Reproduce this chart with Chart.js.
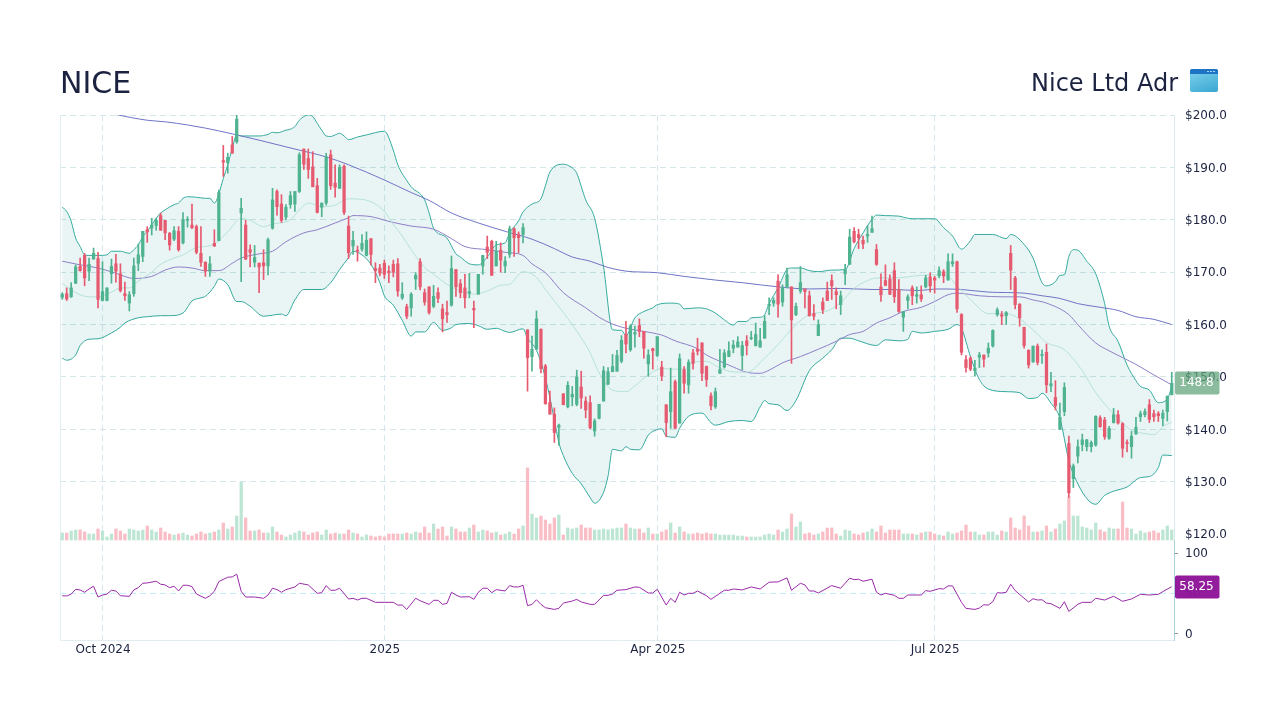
<!DOCTYPE html>
<html><head><meta charset="utf-8">
<style>
html,body{margin:0;padding:0;background:#fff;width:1280px;height:720px;overflow:hidden;font-family:"DejaVu Sans",sans-serif}
#c{position:absolute;left:0;top:0}
.t{position:absolute;color:#1c2340;white-space:nowrap;line-height:1}
#sym{left:60px;top:68px;font-size:30px}
#name{right:102px;top:71px;font-size:24px}
#ico{position:absolute;left:1190px;top:69px;width:28px;height:23px;border-radius:2px;overflow:hidden;background:linear-gradient(160deg,#82d3ec,#38a7d2)}
#ico i{display:block;height:5px;background:#1d74c4;position:relative}
#ico b{position:absolute;top:2px;width:2px;height:1px;background:#a9d4f2}
</style>
<script src="https://cdn.jsdelivr.net/npm/chart.js@4"></script>
</head><body>
<canvas id="c" width="1280" height="720"></canvas>
<div class="t" id="sym">NICE</div><div class="t" id="name">Nice Ltd Adr</div><div id="ico"><i><b style="left:17px"></b><b style="left:20px"></b><b style="left:23px"></b></i></div>
<script>
const xTickIndex=[9,72,133,195];
const xTickLabels=['Oct 2024','2025','Apr 2025','Jul 2025'];
const priceTicks=[120,130,140,150,160,170,180,190,200];
const rsiTicks=[0,30,50,70,100];
const rsiLabelled=[0,50,100];
const lastPrice=148.8, lastRsi=58.25;

const opens=[165.2,165.9,165.3,167.9,171.1,173.2,170.2,172.5,172.6,164.6,
164.6,169.7,171.6,169.7,165.9,164.1,165.9,171.7,173,178.1,
178.4,178.9,180.8,179.9,177.4,176.3,177.8,175.6,179.9,179,
178.7,173.6,171.9,170.2,175.5,176,191.3,190.9,194.3,194.9,
181.3,179,174.3,171.9,171.7,171.8,171.2,178.4,185.4,183,
180.5,182.9,183,185.4,193.5,191.7,190.1,186.5,182.4,183.2,
192.4,187,186,190.2,178.8,175,174.2,174.4,173.2,176.4,
170.7,170.8,171.7,170.2,171.5,171.6,165.1,163.4,163.2,168.7,
172,166.1,167.2,163.5,166.1,163,162.3,163.7,170.5,167.8,
167,166,163.1,165.8,171.2,174.8,175.9,171.2,174.2,171.2,
173.4,178.3,177.2,177.2,159,153.9,155.3,159.1,152.1,145.1,
142.9,140.4,146.8,144.3,146.2,144.8,148.1,145.4,145.1,139.7,
142.1,145.4,148.6,151,151.1,153,158.1,155.2,158.2,159.8,
158.7,152.5,155.4,154.1,151.9,144.7,143.4,149.1,141.2,151.4,
148.5,154.6,155.3,156.5,152,146.4,144.3,150.7,151.9,153.9,
155.5,155.7,154.1,156.9,157.3,156,155.7,157.4,163.6,164.1,
168.3,164.3,167.2,167.2,161.9,166.4,166.8,165.5,162.1,157.9,
164.3,166.4,168.4,166.3,163.8,169.7,171.5,177.8,177.2,176.1,
176.9,177.6,174.3,167.2,168.4,168.7,170.3,166.7,161.4,164.6,
167,165.4,165.7,167.2,169.1,168.9,169.3,170.1,168.5,171.6,
172,161.9,153.3,153.6,151.2,153.8,154.2,154.6,155.9,161.9,
161.9,161.7,173.6,168.9,163.9,159.5,155.1,152.9,155.9,154.1,
154.7,148.3,146.1,140,143.4,137.3,130.6,134.9,137.1,136.7,
136.7,137,142.2,141.8,138.3,141.3,142.8,141.1,137.5,136.7,
139.1,142.4,142.8,144.7,143,143,142.1,143.4,146.6];
const closes=[165.8,164.9,167,171,170.3,168.9,171.5,173.6,164.8,166.3,
167,171.1,170.2,166.5,165.5,165.7,171.2,173.3,177.8,177.7,
179,179.9,178,177.5,175.2,177.9,174.3,180,180,178.5,
173.8,171.9,170.2,171.6,175,185.2,191,191.9,192.7,199.2,
182.2,172.5,173.8,172.8,171,171.2,176.2,183.8,182.5,179.9,
182.4,184.6,185.4,192.4,190.6,189.6,186.3,181.4,183.2,192,
186.5,186.2,190,181.4,173.7,176.1,174,175.5,176.1,173.4,
170.3,169.8,169.6,169.9,170,166.4,165.8,161.6,165.8,169.4,
167.2,164.3,162.3,165.4,165,161.1,161.9,170.7,167.2,166.1,
165.1,166.3,162.8,169.6,173.2,173.8,169.4,174,172.3,172.1,
178.3,176.6,176.6,178.5,153.7,155.3,161.1,151.6,144.9,142.9,
139.4,140.8,144.7,148.4,146.7,150,146,143.7,140.3,141.6,
144.8,151.2,151,152,154.1,157,156.3,159.7,158.5,158.7,
155.5,154.2,155,157.7,150.2,141.3,147.2,140.2,153.5,148.8,
152.8,152.6,154.9,150.7,149.5,144.5,147.2,151.4,154.6,155,
156.1,156.7,156,156,157.5,158.1,156.9,160.6,163.9,164.6,
163.9,167,169.5,160.9,163.5,168,166.3,161.7,161.6,160,
162.8,164.6,167.4,165.7,165.5,170.5,176.7,175.8,176.6,175.4,
177.2,178.3,171.5,165.7,167.5,165.8,165.3,162.5,162.5,165.3,
165.5,165.7,164.9,168.9,167.4,168.5,170.3,169.3,172,172,
163,154.7,151.8,151.5,151.7,154.2,153.4,155.5,158.9,162.8,
161.6,162.3,170.4,163.8,161.3,156,152.3,155.9,152.8,154.2,
148.5,148.7,144.5,142.3,148,127.9,133,136.7,138,138,
137.5,142.5,140.5,138.6,140.2,142.8,141.2,136.4,137.3,138.7,
140.4,143,143.4,141.9,142.4,142.6,143.1,146.3,148.8];
const highs=[166.1,167,168,171.4,172.7,173.6,172.7,174.6,173.8,172,
167,172.5,173.4,171.6,168.1,166.3,172.7,175.4,177.8,178.7,
180.3,180.3,181.3,179.9,177.6,178.7,178.7,181.4,180.6,183,
179,178.7,172,173,178.1,185.7,194.2,192.7,195.9,200.1,
184.1,179.9,175.2,175.1,171.8,174.3,176.5,186,185.7,184.8,
182.9,185.4,185.4,192.8,193.5,193.5,193,187.9,183.2,192.7,
193.3,190.5,190.5,190.5,180.7,177.8,175,177.2,177.7,176.4,
171.8,171.5,172.3,171.2,172.3,172.6,168,163.9,166.1,169.9,
172.6,166.8,167.2,167.5,167,163.9,164.5,173.1,170.5,168.6,
169.6,169.8,164.5,169.6,173.2,176.9,176.1,175.9,175.6,173,
178.8,178.5,177.7,179.3,159,157.8,162.6,159.2,152.4,147.3,
144.1,141,146.8,149.1,148.2,151.3,151.1,146.2,146.4,142,
144.8,152,151.8,154.3,155.1,157.9,160.6,160,159.7,161.1,
158.7,155.2,155.5,157.7,153,144.7,151.7,149.4,154.4,152,
153.3,155.3,157.4,156.5,152.1,147,147.9,155.3,155.2,156.7,
157,157.7,156.8,157.9,158.7,160.3,159.3,161.7,165.1,165.1,
169.5,167.6,170.8,167.2,164.1,171.1,166.8,166.4,163.8,160.9,
165.1,168.1,169.5,167,166.4,171.5,178.2,178.5,178.2,176.9,
178.9,180.7,175.3,169.7,171.4,169.5,171.8,168.6,162.5,165.7,
167.4,167.2,167.4,169.4,169.9,169.2,171,170.5,173.5,173.5,
172.1,162.1,154.1,153.9,153.2,154.7,154.2,156.5,159,163.2,
162.5,162.5,175.1,169.2,164,159.5,155.2,155.9,156.3,155.2,
156.3,150.9,149.3,145,148.9,138.7,133.4,138,139.1,138.1,
137.8,142.6,142.6,142.3,140.6,144,143.6,141.3,138,139.6,
142.3,143.5,143.9,145.7,143.7,143.4,143.7,146.4,150.9];
const lows=[164.8,164.6,165.2,167.8,170.2,167.4,168.4,172.5,163.2,164.5,
164.5,167.9,168.1,166.2,164.6,162.6,165.4,170.3,172,175.7,
177.1,178,178,176.2,174.2,176,174,175.4,178.6,178.3,
173.5,171.1,169.2,169.2,174.9,176,188.3,188.9,192.7,194.6,
168.2,172.4,171,171,166.1,168.6,169.5,178.2,180.9,179.5,
180,182.2,181.6,185.2,189.6,187.9,186.3,181.3,180.6,182.8,
185.8,184.3,186,181,172.6,173.4,172.1,174,173.1,171.4,
168,169.3,168.8,168,169.1,165.4,164.8,161.1,161.6,166.7,
166.6,163.7,162,163.2,164.2,158.6,160.4,163.5,165.4,165.1,
163.2,165.1,159.4,165.8,169.6,172.6,169.4,171.2,170,169.9,
172.8,173,173.7,175.6,147.3,151.1,155.3,150.8,144.8,142.9,
137.5,137,144.7,144.1,144.5,144.5,144,142.2,140.1,138.7,
142,145.4,148.6,151,151.1,152.7,154.6,154.9,155.7,157.7,
153.6,150.1,151.5,153.9,149.3,138.6,140.2,140.2,141.2,146.9,
146.9,151.5,154.2,149.3,148.2,143.7,144,150.7,151.7,153.9,
154.6,155.7,151.4,154.2,157.1,155.9,155.7,157.4,161.9,163.5,
161.4,163.5,167,152.6,161.7,166,163.2,161.6,160.9,157.9,
162.1,164.6,164.8,163,161.9,167.6,171.5,175.6,174.5,174.5,
175.7,177.6,171.3,164.4,167.4,165.7,164.2,162.3,158.7,163,
163.8,164.1,164.4,167,166.2,166,168.9,168,168.5,171.1,
162.3,154.2,150.9,151.2,150.2,151.8,151.9,153.8,155.7,161.6,
160,160,166.7,163,159.7,155.5,151.7,152.8,152.3,152.6,
147,147.2,143.7,140,142.6,127,128.9,133.6,135.9,135.9,
135.7,136.8,140.4,138.1,138.1,141.2,141,134.7,135.7,134.5,
139.1,141.5,142.4,141.3,141.5,141.5,140.7,141.6,146.6];
const volumes=[7,7,9,10,10,8,6,6,11,9,
3,6,11,9,6,11,10,9,10,14,
10,8,12,8,6,5,6,7,5,4,
6,8,6,7,8,10,17,11,13,24,
58,22,9,9,10,7,7,13,8,5,
3,5,7,9,8,5,7,8,5,10,
6,7,6,6,10,7,6,3,5,4,
3,4,3,6,6,6,6,7,6,8,
7,13,7,16,11,13,4,13,11,8,
8,12,15,8,10,9,7,8,5,6,
8,6,11,14,72,26,22,24,20,16,
22,25,5,12,11,12,15,12,12,10,
10,11,10,11,12,12,16,12,11,11,
7,12,6,6,8,10,17,7,13,8,
6,6,7,6,7,6,6,5,5,5,
5,4,4,3,3,3,3,5,6,5,
10,8,11,26,13,18,6,7,5,6,
8,12,12,6,4,10,9,6,5,7,
8,11,8,14,7,10,10,10,6,6,
6,5,7,8,8,6,5,4,8,6,
7,9,15,8,8,5,5,8,8,5,
9,8,22,12,10,24,14,8,8,9,
14,8,11,16,19,43,24,24,13,12,
10,17,10,8,12,11,11,38,12,11,
6,9,7,8,9,7,10,14,10];

const upperIdx=[0,1,2,3,4,5,6,8,10,11,13,15,16,17,18,19,20,21,22,23,25,26,27,28,30,32,33,34,35,36,37,38,39,40,42,44,46,47,48,50,51,52,53,54,55,56,57,58,59,60,61,62,63,64,66,68,72,74,75,77,78,81,82,83,86,88,89,91,93,95,97,99,100,102,103,105,107,108,109,112,113,115,116,117,119,121,123,125,126,128,130,132,133,136,138,139,142,144,146,148,150,151,153,154,156,157,158,160,162,163,165,167,169,172,175,177,179,181,182,184,187,188,190,195,197,199,201,203,204,208,211,212,215,217,219,220,222,223,224,225,226,227,229,231,233,234,236,238,240,241,243,245,247,248];
const upperVal=[182.4,181.6,179.7,176.5,174.9,173.3,173.2,173.2,173.3,174,174,173.6,174.3,175.2,176.8,177.8,179,180.3,181.3,181.9,182.9,183.2,184.1,184.4,184.3,184.1,184.1,183.2,184.9,187.9,190.5,193.6,196.2,196,196,196,196.3,196.7,196.6,197.1,197.3,197.8,199,199.7,200,199.7,198.4,197.1,196,195.9,196.2,196.5,196,195.3,195.8,196.2,196.9,193.3,190.5,187.5,186.3,183.8,181.3,178.4,176.5,173.5,172.9,171.6,171.4,172.9,175.2,175.6,177.5,179.8,181.5,183,184,186.5,189.1,190.6,190.4,188.9,186.4,183.8,180.3,171,159,158.9,157.9,161.3,162.5,163.2,163.8,164.1,163.9,163,163.2,163,162.2,160.9,159.9,160.6,160.6,161.3,161.4,161.9,164,167,170.5,170.8,170.8,170.3,170.1,170.4,170.5,174.5,177.5,180.1,180.9,180.8,180.7,180.5,180.2,180.2,178.5,176.9,174.4,176,177.2,177.2,176.4,177.2,175.3,172.7,168,167.4,168.2,169.4,169.5,173,174.3,174.2,172.1,169.7,164,159.7,156.8,152.3,149.3,148.2,147.5,145.1,145.8,148.2];
const lowerIdx=[0,1,3,4,6,8,11,13,14,17,19,22,24,27,29,31,32,34,35,37,39,40,42,45,49,50,52,54,58,60,62,64,65,67,69,71,72,74,76,78,79,81,83,85,87,88,91,93,95,97,99,100,103,104,106,108,110,111,112,114,116,118,119,121,122,123,125,126,127,129,131,132,134,135,137,138,140,143,145,146,149,152,154,156,157,158,160,162,164,167,170,172,174,176,178,182,184,187,189,190,192,195,198,200,201,203,205,207,211,214,216,218,219,221,223,225,226,229,231,233,235,238,241,243,245,246,248];
const lowerVal=[153.6,153.2,154.2,156,157.2,157.3,158.4,159.5,160.3,161.3,161.5,161.7,161.7,162.2,164.5,165.1,165.4,167.3,168.7,167.6,164.4,164.4,163.5,161.6,162,161.7,164.7,166.7,166.7,168,170.5,172.8,174,173.3,171.5,168,165.5,163.7,160.8,157.8,158.6,158.6,160.4,158.9,159.4,160,160.2,159.8,159.1,159.3,158.7,158.5,159.2,157.4,155.1,149.8,141.8,137.5,135,131.6,129.6,127,125.9,128,131.1,136.2,135.9,136.7,136.2,136.1,138.9,139.6,140.1,138.7,138.5,140.2,142.5,143.1,141.3,140.8,141.5,141.7,141.5,144.3,145.5,144.9,144.7,143.6,145.5,151.2,153.6,155.2,157.4,157.4,156.9,156,157.1,156.9,157.2,158.7,158.4,158.7,159.1,160,159.3,153.9,149.5,147.7,147.2,147,145.9,146.1,146.9,145,142.1,134,131.5,126.8,125.7,127.4,128.2,129,130.8,131,132.7,135.1,135];
const midIdx=[0,3,6,8,11,13,15,17,20,22,25,27,30,32,34,37,40,42,45,47,51,53,55,58,61,64,67,70,72,74,76,78,81,83,86,89,92,95,98,100,103,106,108,112,116,118,120,123,126,128,131,134,137,139,141,144,146,149,153,157,160,164,167,171,174,177,180,182,186,192,195,198,200,203,207,211,214,217,220,224,228,231,236,239,242,244,246,248];
const midVal=[167.9,166.1,165.3,165.3,166.2,167,167,168.3,170,171.5,172.7,173.3,174.7,174.9,175.4,177.7,180.3,179.9,178.7,179.2,180,181.9,183.2,182.5,182.8,184,183.9,183,181.6,179.1,176.9,174.3,170.9,169.6,167.7,166.4,165.8,166.4,167.5,167.7,170.1,169,166.7,162.3,157.5,154.6,150.8,147.5,147.2,148.3,150.4,151.6,151.5,151.5,152.8,153,152.2,151.1,150.9,153.6,156.2,160,161.9,162.6,164.2,166.9,168.4,168.9,168.9,169.4,169.5,169.2,167.3,164.8,162.1,162.1,161.1,159,156.6,155.2,151.2,147,142.1,139.8,139.2,139,140.5,141.4];
const sma50Idx=[0,4,8,12,16,20,23,26,29,32,35,38,40,44,47,50,54,57,61,64,65,69,73,78,83,87,90,95,99,103,105,108,112,117,120,123,126,130,134,137,142,144,147,150,153,156,158,161,165,169,173,176,179,182,185,188,192,195,198,200,205,210,214,217,220,225,227,231,234,237,240,244,248];
const sma50Val=[172.1,171.4,170.8,169.8,168.8,169.2,170.4,171,170.8,170.3,170.3,171.7,172.7,173.5,174,175.8,177.5,178.1,179.4,180.4,180.8,180.6,179.7,178.8,178.2,176.4,174.9,174.3,173.8,173.2,171.6,169.9,166.1,163.2,161.4,160.1,159.3,158.7,158,156.9,155.4,154.2,153,151.9,150.9,150.7,151.3,152.7,153.9,155.3,156.8,158.1,158.7,160.3,161.3,162.5,163.3,164.4,165.7,166,165.5,165.3,165.3,164.7,164.1,161.9,160,156.5,155,153.7,152.4,150.4,148.5];
const sma200Idx=[5,12,19,23,28,32,38,44,52,59,64,72,78,82,87,93,99,105,110,114,118,122,126,133,139,146,152,160,167,174,181,186,191,196,201,207,215,219,223,227,232,236,240,244,248];
const sma200Val=[201.5,200.1,199,198.7,198.1,197.5,196.4,195.2,193.5,192,190.5,187.6,185.2,183.7,181.3,179.4,177.8,176.3,174.5,172.9,172.1,170.9,170.2,169.9,169.2,168.5,168,167.2,166.8,166.9,166.7,166.7,166.5,166.8,166.7,166.2,166,165.5,165,164,163.3,162.7,161.5,161,160];
const rsiIdx=[0,1,2,3,4,5,6,7,8,9,10,11,12,13,15,16,17,18,19,21,22,23,24,25,26,27,28,29,30,32,33,34,35,37,38,39,40,41,43,45,46,47,48,49,50,52,53,55,57,58,59,60,61,62,64,65,66,67,68,70,74,75,76,77,79,80,82,83,84,85,86,87,88,89,91,92,93,94,95,96,97,99,100,101,102,103,104,105,106,107,108,110,111,112,114,115,116,118,119,121,122,123,124,126,128,129,131,132,133,135,136,137,138,139,140,141,142,144,145,148,149,150,152,154,156,158,160,162,163,165,166,167,168,169,172,174,176,177,178,179,181,182,183,184,186,187,188,189,192,193,194,196,197,198,199,201,202,204,205,206,207,208,209,210,211,212,213,216,217,218,219,220,221,223,224,225,227,228,230,231,233,235,237,239,241,243,245,246,248];
const rsiVal=[47,46.7,49,55,54.2,51.3,55.4,58.8,45.4,47.9,49,53.8,52.9,47,46.3,54.2,57.1,62.5,62.9,65,61.3,60.4,57,58.8,52.9,60,60,58.3,49.2,43.8,47,52.5,64.6,70,70.4,73.8,52.5,45.4,45.4,43.8,47.9,56.3,54.6,51.3,54.6,57.9,62.5,60.4,50,50.8,59.6,53.8,53.8,56.3,42.9,43.8,41.7,43.8,43.8,38.8,38.8,35.4,35.4,30,43.8,40.8,36.3,41.3,41.3,36.3,37.5,51.3,47.9,45.4,45.8,42.5,51.3,56.3,56.3,50.8,54.6,52.9,59.6,57.9,57.9,60,34.6,36.3,42,36.3,32.1,30,31.3,37.9,40.4,42.5,39.2,36.3,36.3,47.5,47.5,49.2,53.8,54.6,57.9,57.5,50.4,50.4,55,35.4,43.8,38.8,51.3,47.9,50,50,52.9,47,42.5,53.8,53.8,55.4,54.2,57.9,55.4,63.8,64.2,69.2,53.8,62.5,60.4,52.9,52.9,50.4,59.6,56.3,68.8,67,67.5,65,67.5,51.3,47.9,50,47.5,43.8,43.8,47.9,47.9,53.3,52.5,55.8,55.4,59.2,59.2,38.8,31.3,30,31.7,35.8,35.4,39.6,50.8,50.4,51.3,61.3,53.3,39.2,43.3,41.7,42,37.9,37.1,31.3,39.6,27.5,36.3,38.8,38.8,43.8,41.7,46.3,40.1,43,48.8,47.9,48.8,52.1,58.25];

const categories=opens.map((_,i)=>i);
const pts=(idx,val)=>idx.map((x,i)=>({x,y:val[i]}));
const isUp=i=>closes[i]>=opens[i];
const RED='#e65a70',GREEN='#4fb390',RED_V='#f9bdc6',GREEN_V='#bce5d3';
const TEXT='#1c2340';

const line=(label,idx,val,color,extra)=>Object.assign({type:'line',label,data:pts(idx,val),borderColor:color,borderWidth:1,pointRadius:0,cubicInterpolationMode:'monotone',yAxisID:'yPrice',order:5,fill:false},extra||{});

const overlay={id:'overlay',
 beforeDatasetsDraw(ch){const c=ch.ctx,a=ch.chartArea;c.save();c.strokeStyle='#e2edf2';c.lineWidth=1;c.beginPath();c.moveTo(a.left+.5,a.top);c.lineTo(a.left+.5,a.bottom);c.stroke();c.restore();},
 afterDraw(ch){
  const c=ch.ctx;
  const tag=(y,txt,bg)=>{c.save();c.fillStyle=bg;c.beginPath();c.roundRect(1175,Math.round(y)-11.5,44.5,23,2);c.fill();
   c.fillStyle='#fff';c.font='12px "DejaVu Sans"';c.textAlign='center';c.textBaseline='middle';c.fillText(txt,1196.5,y);c.restore();};
  tag(ch.scales.yPrice.getPixelForValue(lastPrice),lastPrice.toFixed(1),'rgba(100,165,125,0.75)');
  tag(ch.scales.yRsi.getPixelForValue(lastRsi),lastRsi.toFixed(2),'rgba(142,21,153,0.97)');
 }};

new Chart(document.getElementById('c'),{
 data:{labels:categories,datasets:[
  {type:'bar',label:'High-Low',data:categories.map(i=>[lows[i],highs[i]]),backgroundColor:categories.map(i=>isUp(i)?GREEN:RED),barThickness:1,grouped:false,yAxisID:'yPrice',order:2},
  {type:'bar',label:'Open-Close',data:categories.map(i=>[Math.min(opens[i],closes[i]),Math.max(opens[i],closes[i])]),backgroundColor:categories.map(i=>isUp(i)?GREEN:RED),barThickness:2.6,minBarLength:1,grouped:false,yAxisID:'yPrice',order:1},
  {type:'bar',label:'Volume',data:volumes,backgroundColor:categories.map(i=>isUp(i)?GREEN_V:RED_V),barThickness:2.6,grouped:false,yAxisID:'yVol',order:6},
  line('BB Upper',upperIdx,upperVal,'#35ab9e',{fill:'+1',backgroundColor:'rgba(0,128,128,0.085)',order:7}),
  line('BB Lower',lowerIdx,lowerVal,'#35ab9e',{order:7}),
  line('BB Basis',midIdx,midVal,'#b5e2d8'),
  line('SMA 50',sma50Idx,sma50Val,'#8e7fc8'),
  line('SMA 200',sma200Idx,sma200Val,'#6f75c6'),
  {type:'line',label:'RSI',data:pts(rsiIdx,rsiVal),borderColor:'#9a2aa8',borderWidth:1,pointRadius:0,tension:0,yAxisID:'yRsi',order:3}
 ]},
 options:{responsive:false,animation:false,events:[],
  layout:{padding:{top:115,left:60,right:50,bottom:60}},
  plugins:{legend:{display:false},tooltip:{enabled:false},title:{display:false}},
  scales:{
   x:{type:'category',offset:true,
     grid:{offset:false,color:'#d6e8ee',borderDash:[6,4],drawTicks:false},border:{color:'#e2edf2',dash:[6,4]},
     ticks:{autoSkip:false,maxRotation:0,padding:3,labelOffset:.5,color:TEXT,font:{family:'"DejaVu Sans"',size:12},callback:v=>xTickLabels[xTickIndex.indexOf(v)]},
     afterBuildTicks:s=>{s.ticks=xTickIndex.map(v=>({value:v}));},
     afterFit:s=>{s.height=20;}},
   yPrice:{type:'linear',position:'right',stack:'r',stackWeight:4.25,min:118.89,max:200,
     grid:{color:c=>c.tick&&c.tick.value===120?'transparent':'#d3e6ea',drawTicks:false},border:{color:'#dbe9ee',dash:[6,4]},
     ticks:{padding:11,labelOffset:1,color:TEXT,font:{family:'"DejaVu Sans"',size:12},callback:v=>'$'+v.toFixed(1)},
     afterBuildTicks:s=>{s.ticks=priceTicks.map(v=>({value:v}));},
     afterFit:s=>{s.width=56;}},
   yRsi:{type:'linear',position:'right',stack:'r',stackWeight:1,min:-8,max:116.25,
     grid:{color:c=>[30,50,70].includes(c.tick&&c.tick.value)?'#c4eefa':'transparent',tickColor:c=>rsiLabelled.includes(c.tick&&c.tick.value)?'#8a95a5':'transparent',tickLength:4},border:{color:'#a8d0d8',dash:[6,4]},
     ticks:{padding:7,labelOffset:1,color:TEXT,font:{family:'"DejaVu Sans"',size:12},callback:v=>rsiLabelled.includes(v)?String(v):''},
     afterBuildTicks:s=>{s.ticks=rsiTicks.map(v=>({value:v}));},
     afterFit:s=>{s.width=56;}},
   yVol:{type:'linear',display:false,min:-100,max:425}
  }},
 plugins:[overlay]
});
</script>
</body></html>
